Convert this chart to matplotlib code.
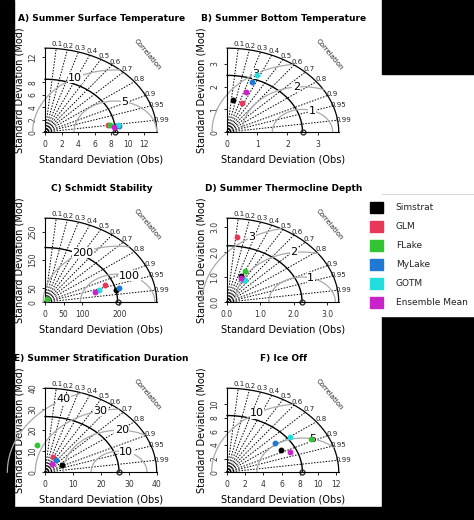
import numpy as np
import matplotlib
matplotlib.use("Agg")
import matplotlib.pyplot as plt
from matplotlib.patches import Rectangle

models = ["Simstrat", "GLM", "FLake", "MyLake", "GOTM", "Ensemble Mean"]
colors = ["#000000", "#e8385a", "#33c433", "#1f78d1", "#22dede", "#c822c8"]

titles = ["A) Summer Surface Temperature", "B) Summer Bottom Temperature",
          "C) Schmidt Stability", "D) Summer Thermocline Depth",
          "E) Summer Stratification Duration", "F) Ice Off"]
ref_sd = [8.5, 2.5, 195, 2.25, 26.5, 8.3]
max_sd = [13.5, 3.7, 300, 3.35, 40, 12.3]
xticks = [[0, 2, 4, 6, 8, 10, 12], [0, 1, 2, 3], [0, 50, 100, 200],
          [0.0, 1.0, 2.0, 3.0], [0, 10, 20, 30, 40], [0, 2, 4, 6, 8, 10, 12]]
yticks = [[0, 2, 4, 6, 8, 12], [0, 1, 2, 3], [0, 50, 150, 250],
          [0.0, 1.0, 2.0, 3.0], [0, 10, 20, 30, 40], [0, 2, 4, 6, 8, 10]]
tickfmt = ["{:g}", "{:g}", "{:g}", "{:.1f}", "{:g}", "{:g}"]
rms_levels = [[5, 10], [1, 2, 3], [100, 200], [1, 2, 3], [10, 20, 30, 40], [5, 10]]
rms_label_angle = [[77, 119], [71, 96, 121], [71, 118], [75, 97, 120],
                   [75, 87, 103, 120], [77, 120]]

# points (Obs-axis x, Mod-axis y) per model, order as models
pts_x = [[8.6, 7.6, 7.8, 9.0, 8.8, 8.3],
         [0.2, 0.5, None, 0.83, 1.0, 0.63],
         [190, 160, 5, 200, 145, 135],
         [0.43, 0.3, 0.55, 0.5, 0.55, 0.43],
         [6, 3, -3, 4, None, 2.5],
         [5.9, None, 9.3, 5.3, 6.9, 6.9]]
pts_y = [[1.0, 1.1, 1.2, 1.0, 1.1, 0.8],
         [1.4, 1.3, None, 2.2, 2.5, 1.75],
         [45, 60, 12, 50, 45, 35],
         [1.05, 2.6, 1.25, 0.9, 0.9, 0.95],
         [3.5, 7, 13, 6, None, 4],
         [3.2, None, 4.9, 4.3, 5.2, 2.9]]

corrs = [0.1, 0.2, 0.3, 0.4, 0.5, 0.6, 0.7, 0.8, 0.9, 0.95, 0.99]

fig = plt.figure(figsize=(4.74, 5.2), dpi=100, facecolor="white")
for (x0, y0, w, h) in [(0, 0, 0.03, 1), (0.805, 0, 0.2, 0.625), (0.805, 0.625 + 0.232, 0.2, 0.2),
                       (0, 0, 1, 0.025)]:
    fig.patches.append(Rectangle((x0, y0), w, h, transform=fig.transFigure,
                                 color="black", zorder=-5))
fig.patches.append(Rectangle((0.77, 0.393), 0.23, 0.232, transform=fig.transFigure,
                             color="white", zorder=-4))

lefts = [0.095, 0.479]
bottoms = [0.746, 0.419, 0.092]
W, H = 0.238, 0.163

for i in range(6):
    ax = fig.add_axes([lefts[i % 2], bottoms[i // 2], W, H])
    R, M = ref_sd[i], max_sd[i]
    ax.set_xlim(0, M * 1.01)
    ax.set_ylim(0, M * 1.01)
    for s in ["top", "right"]:
        ax.spines[s].set_visible(False)
    ax.spines["left"].set_bounds(0, M)
    ax.spines["bottom"].set_bounds(0, M)
    ax.set_xticks(xticks[i])
    ax.set_yticks(yticks[i])
    ax.set_xticklabels([tickfmt[i].format(t) for t in xticks[i]], fontsize=5.5, color="#333333")
    ax.set_yticklabels([tickfmt[i].format(t) for t in yticks[i]], fontsize=5.5, color="#333333",
                       rotation=90, va="center")
    ax.tick_params(length=2.5, width=0.6, pad=3)
    ax.set_xlabel("Standard Deviation (Obs)", fontsize=7, labelpad=4)
    ax.set_ylabel("Standard Deviation (Mod)", fontsize=7, labelpad=3)
    ax.set_title(titles[i], fontsize=6.5, fontweight="bold", pad=19)

    th = np.linspace(0, np.pi / 2, 200)
    ax.plot(M * np.cos(th), M * np.sin(th), color="black", lw=0.9, clip_on=False)
    ax.plot(R * np.cos(th), R * np.sin(th), color="black", lw=1.0, clip_on=False)
    for c in corrs:
        a = np.arccos(c)
        ax.plot([0, M * np.cos(a)], [0, M * np.sin(a)], ls=(0, (1.5, 1.5)), color="black",
                lw=0.7, clip_on=False)
        ax.text(M * 1.05 * np.cos(a), M * 1.05 * np.sin(a), f"{c:g}", fontsize=5,
                ha="center", va="center", color="#222222")
    ax.text(M * 0.92, M * 0.92, "Correlation", rotation=-50, fontsize=5,
            ha="center", va="center", color="#222222")
    t2 = np.linspace(0, np.pi, 400)
    for r, ang in zip(rms_levels[i], rms_label_angle[i]):
        cx = R + r * np.cos(t2)
        cy = r * np.sin(t2)
        inside = np.hypot(cx, cy) <= M
        cx = np.where(inside, cx, np.nan)
        cy = np.where(inside, cy, np.nan)
        ax.plot(cx, cy, color="#aaaaaa", lw=0.9, clip_on=False)
        a = np.radians(ang)
        ax.text(R + r * np.cos(a), r * np.sin(a), f"{r:g}", fontsize=8, ha="center",
                va="center", bbox=dict(fc="white", ec="none", pad=0.3))
    ax.plot([R], [0], marker="o", ms=3.5, mfc="none", mec="#333333", clip_on=False)
    for xv, yv, col in zip(pts_x[i], pts_y[i], colors):
        if xv is None:
            continue
        ax.plot([xv], [yv], marker="o", ms=3.2, color=col, clip_on=False, zorder=5)

for k, (m, col) in enumerate(zip(models, colors)):
    y = 0.6 - k * 0.0365
    fig.patches.append(Rectangle((0.781, y - 0.01), 0.028, 0.022, transform=fig.transFigure,
                                 color=col, zorder=2))
    fig.text(0.835, y, m, fontsize=6.5, va="center", color="#222222")

fig.savefig("out.png", dpi=100, facecolor="white")
